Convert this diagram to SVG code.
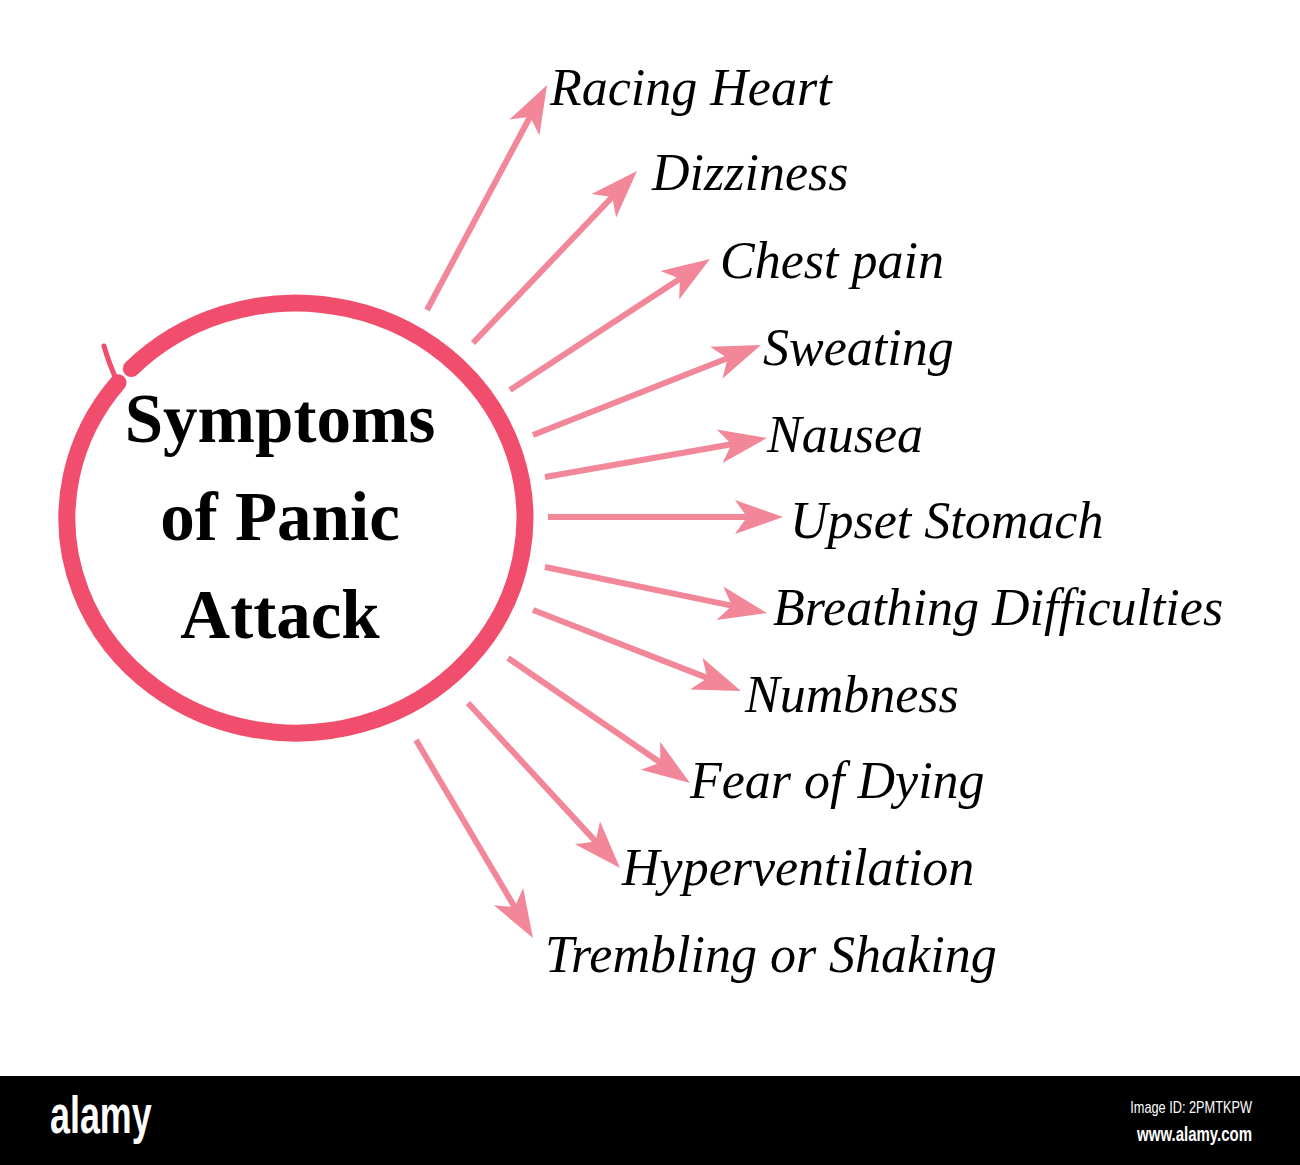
<svg xmlns="http://www.w3.org/2000/svg" width="1300" height="1165" viewBox="0 0 1300 1165">
<style>
.title{font-family:"Liberation Serif",serif;font-weight:bold;font-size:69px;fill:#000;text-anchor:middle}
.lbl{font-family:"Liberation Serif",serif;font-style:italic;font-size:52px;fill:#000}
.arr{stroke:#f2879a;stroke-width:6;fill:none;marker-end:url(#ah)}
.foot{font-family:"Liberation Sans",sans-serif;fill:#fff}
</style>
<defs>
<marker id="ah" viewBox="-22 -18 54 36" refX="0" refY="0" markerWidth="54" markerHeight="36" markerUnits="userSpaceOnUse" orient="auto">
<path d="M30,0 L-18,-17 L-6,0 L-18,17 Z" fill="#f2879a"/>
</marker>
</defs>
<rect width="1300" height="1165" fill="#fff"/>
<g id="center">
<path d="M131.3,368.6 A229,215 0 1,1 118,382.7" fill="none" stroke="#f14d6d" stroke-width="17" stroke-linecap="round"/>
<path d="M118,383 Q109,364 104,346" fill="none" stroke="#f14d6d" stroke-width="5" stroke-linecap="round"/>
<text class="title" x="280" y="442">Symptoms</text>
<text class="title" x="280" y="540">of Panic</text>
<text class="title" x="280" y="638">Attack</text>
</g>
<g id="connectors">
<line class="arr" x1="427" y1="310" x2="532.9" y2="111.5"/>
<line class="arr" x1="473" y1="343" x2="616.3" y2="192.7"/>
<line class="arr" x1="510" y1="390" x2="684.9" y2="275.4"/>
<line class="arr" x1="533" y1="435" x2="733.1" y2="356"/>
<line class="arr" x1="545" y1="477" x2="737.4" y2="443.2"/>
<line class="arr" x1="548" y1="517" x2="753" y2="517"/>
<line class="arr" x1="545" y1="567" x2="737.6" y2="606.9"/>
<line class="arr" x1="533" y1="610" x2="713" y2="680.1"/>
<line class="arr" x1="508" y1="658" x2="665.3" y2="766"/>
<line class="arr" x1="468" y1="703" x2="599.7" y2="845.9"/>
<line class="arr" x1="416" y1="740" x2="517.7" y2="912.2"/>
</g>
<g id="n1"><text class="lbl" x="550" y="105">Racing Heart</text></g>
<g id="n2"><text class="lbl" x="652" y="190">Dizziness</text></g>
<g id="n3"><text class="lbl" x="720" y="278">Chest pain</text></g>
<g id="n4"><text class="lbl" x="763" y="365">Sweating</text></g>
<g id="n5"><text class="lbl" x="767" y="452">Nausea</text></g>
<g id="n6"><text class="lbl" x="790" y="538">Upset Stomach</text></g>
<g id="n7"><text class="lbl" x="773" y="625">Breathing Difficulties</text></g>
<g id="n8"><text class="lbl" x="745" y="712">Numbness</text></g>
<g id="n9"><text class="lbl" x="690" y="798">Fear of Dying</text></g>
<g id="n10"><text class="lbl" x="622" y="885">Hyperventilation</text></g>
<g id="n11"><text class="lbl" x="545" y="972">Trembling or Shaking</text></g>
<g id="footer">
<rect x="0" y="1076" width="1300" height="89" fill="#000"/>
<text class="foot" transform="translate(50,1133) scale(0.69,1)" font-size="52" font-weight="bold">alamy</text>
<text class="foot" transform="translate(1252,1113) scale(0.75,1)" font-size="17" text-anchor="end">Image ID: 2PMTKPW</text>
<text class="foot" transform="translate(1252,1141) scale(0.75,1)" font-size="20" font-weight="bold" text-anchor="end">www.alamy.com</text>
</g>
</svg>
